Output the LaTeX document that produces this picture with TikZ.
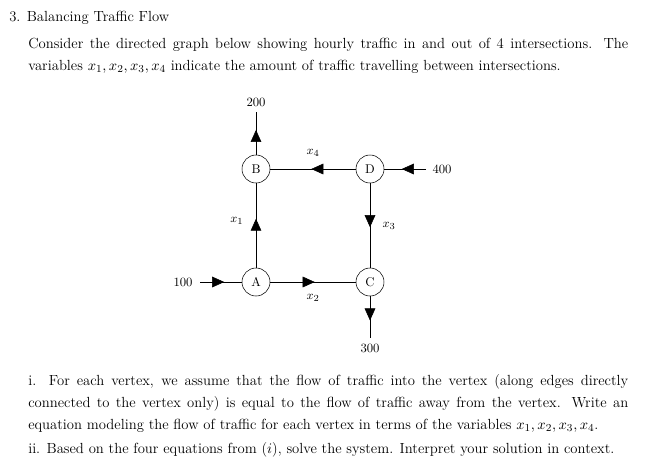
\documentclass[tikz,border=0pt]{standalone}
\usetikzlibrary{decorations.markings,arrows.meta}
\begin{document}
\begin{tikzpicture}[x=0.75pt,y=-0.75pt,
  v/.style={circle,draw,minimum size=21pt,inner sep=0pt,font=\fontsize{9.5}{11}\selectfont},
  lbl/.style={font=\fontsize{9.5}{11}\selectfont},
  flow/.style={postaction={decorate},decoration={markings,mark=at position #1 with {\arrow{Triangle[length=9pt,width=8pt]}}}},
  ln/.style={anchor=base west,inner sep=0pt,font=\fontsize{11}{16.5}\selectfont}]
\useasboundingbox (0,0) rectangle (660,472);
\node[ln] (t0) at (9,21) {3. Balancing Traffic Flow};
\node[ln] (t1) at (28,48) {\makebox[450pt][s]{Consider the directed graph below showing hourly traffic in and out of 4 intersections. The}};
\node[ln] (t2) at (28,70) {variables $x_1,x_2,x_3,x_4$ indicate the amount of traffic travelling between intersections.};
\node[v] (A) at (256,282) {A};
\node[v] (B) at (256,169) {B};
\node[v] (C) at (370,282) {C};
\node[v] (D) at (370,169) {D};
\node[lbl] (n200) at (256,102) {200};
\node[lbl] (n400) at (442,169) {400};
\node[lbl] (n100) at (183,282) {100};
\node[lbl] (n300) at (370,348) {300};
\coordinate (e200) at (256,112);
\coordinate (e400) at (426,169);
\coordinate (e100) at (200,282);
\coordinate (e300) at (370,338);
\draw[flow=0.58] (A) -- (B) node[lbl,pos=0.55,left=6pt] {$x_1$};
\draw[flow=0.52] (A) -- (C) node[lbl,pos=0.5,below=6pt] {$x_2$};
\draw[flow=0.52] (D) -- (C) node[lbl,pos=0.5,right=6pt] {$x_3$};
\draw[flow=0.52] (D) -- (B) node[lbl,pos=0.5,above=6pt] {$x_4$};
\draw[flow=0.58] (B) -- (e200);
\draw[flow=0.58] (e400) -- (D);
\draw[flow=0.58] (e100) -- (A);
\draw[flow=0.58] (C) -- (e300);
\node[ln] (i1) at (28,385) {\makebox[450pt][s]{i. For each vertex, we assume that the flow of traffic into the vertex (along edges directly}};
\node[ln] (i2) at (28,407) {\makebox[450pt][s]{connected to the vertex only) is equal to the flow of traffic away from the vertex. Write an}};
\node[ln] (i3) at (28,429) {equation modeling the flow of traffic for each vertex in terms of the variables $x_1,x_2,x_3,x_4$.};
\node[ln] (i4) at (28,453) {ii. Based on the four equations from ($i$), solve the system. Interpret your solution in context.};
\end{tikzpicture}
\end{document}
